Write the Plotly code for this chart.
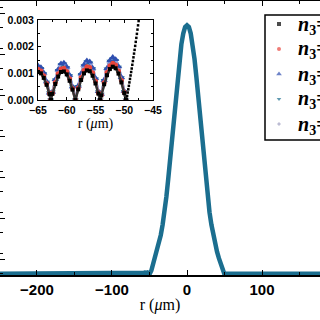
import plotly.graph_objects as go

# ---------------- data ----------------
series_labels = ["1.40", "1.45", "1.50", "1.55", "1.60"]

# inset: side lobes between -65 and -49.7 um
r_inset = [-65, -64.5, -64, -63.5, -63, -62.8, -62.5, -62, -61.5, -61, -60.5, -60,
           -59.5, -59, -58.5, -58, -57.5, -57, -56.5, -56, -55.5, -55, -54.5, -54.2,
           -54, -53.5, -53, -52.5, -52, -51.5, -51, -50.5, -50, -49.7]

s1_inset = [0.00105, 0.00100, 0.00083, 0.00057, 0.00022, 0,
            0.00023, 0.00060, 0.00088, 0.00105, 0.00107, 0.00096, 0.00072, 0.00039, 0,
            0.00040, 0.00075, 0.00100, 0.00111, 0.00108, 0.00091, 0.00062, 0.00024, 0,
            0.00017, 0.00059, 0.00093, 0.00116, 0.00125, 0.00119, 0.00099, 0.00066, 0.00026, 0]
s2_inset = [0.00115, 0.00109, 0.00091, 0.00062, 0.00025, 0,
            0.00026, 0.00066, 0.00098, 0.00116, 0.00119, 0.00107, 0.00080, 0.00043, 0,
            0.00045, 0.00084, 0.00112, 0.00125, 0.00122, 0.00102, 0.00070, 0.00027, 0,
            0.00019, 0.00065, 0.00103, 0.00128, 0.00138, 0.00131, 0.00109, 0.00073, 0.00029, 0]
s3_inset = [0.00128, 0.00122, 0.00102, 0.00069, 0.00027, 0,
            0.00030, 0.00077, 0.00114, 0.00136, 0.00139, 0.00124, 0.00093, 0.00050, 0,
            0.00053, 0.00099, 0.00132, 0.00147, 0.00143, 0.00120, 0.00082, 0.00032, 0,
            0.00022, 0.00075, 0.00119, 0.00148, 0.00160, 0.00152, 0.00126, 0.00085, 0.00033, 0]
s4_inset = [0.00124, 0.00118, 0.00098, 0.00067, 0.00027, 0,
            0.00030, 0.00075, 0.00111, 0.00132, 0.00135, 0.00121, 0.00091, 0.00049, 0,
            0.00051, 0.00096, 0.00128, 0.00143, 0.00139, 0.00117, 0.00079, 0.00031, 0,
            0.00022, 0.00073, 0.00116, 0.00145, 0.00156, 0.00148, 0.00123, 0.00083, 0.00032, 0]
s5_inset = [0.00120, 0.00114, 0.00095, 0.00065, 0.00026, 0,
            0.00028, 0.00072, 0.00106, 0.00126, 0.00129, 0.00116, 0.00087, 0.00046, 0,
            0.00049, 0.00091, 0.00122, 0.00136, 0.00132, 0.00111, 0.00076, 0.00030, 0,
            0.00021, 0.00069, 0.00110, 0.00137, 0.00148, 0.00141, 0.00117, 0.00078, 0.00031, 0]

# rising edge of the central peak (first series), seen in the inset
r_rise = [-49.6, -49.5, -49.4, -49.3, -49.2, -49.1, -49.0, -48.9, -48.8, -48.7, -48.6,
          -48.5, -48.4, -48.3, -48.2, -48.1, -48.0, -47.9, -47.8, -47.7, -47.6, -47.5, -47.4]
s1_rise = [0.00005, 0.00015, 0.00028, 0.0004, 0.00053, 0.00066, 0.00079, 0.00092, 0.00105,
           0.00118, 0.00132, 0.00146, 0.0016, 0.00174, 0.00188, 0.00203, 0.00218, 0.00233,
           0.00248, 0.00264, 0.0028, 0.00296, 0.00312]

# main profile
r_far_left = [-250, -200, -150, -100, -70]
v_far_left = [0, 0, 0, 0, 0]
r_core = [-47.5, -45, -42.5, -40, -37.5, -35, -32.5, -30, -27.5, -25, -22.5, -20, -17.5,
          -15, -12.5, -10, -7.5, -5, -2.5, 0, 2.5, 5, 7.5, 10, 12.5, 15, 17.5, 20, 22.5,
          25, 27.5, 30, 32.5, 35, 37.5, 40, 42.5, 45, 47.5]
v_core = [0.004, 0.012, 0.019, 0.027, 0.035, 0.047, 0.060, 0.075, 0.094, 0.116, 0.140,
          0.164, 0.190, 0.215, 0.240, 0.262, 0.280, 0.293, 0.301, 0.303, 0.301, 0.293,
          0.280, 0.262, 0.240, 0.215, 0.190, 0.164, 0.140, 0.116, 0.094, 0.075, 0.060,
          0.047, 0.035, 0.027, 0.019, 0.012, 0.004]
r_far_right = [49.7, 60, 100, 150, 180]
v_far_right = [0, 0, 0, 0, 0]

x_tick_vals = [-200, -100, 0, 100]
inset_x_ticks = [-65, -60, -55, -50, -45]
inset_y_ticks = [0.000, 0.001, 0.002, 0.003]

# ---------------- styles ----------------
colors = ["#000000", "#e8453c", "#2f4fb0", "#1b6e8f", "#a0a0c0"]
line_colors = ["#333333", "#f08a84", "#8a9ee0", "#5f93b5", "#c4c4da"]
symbols = ["square", "circle", "triangle-up", "triangle-down", "diamond"]
sizes = [4, 5, 6.5, 6, 5]
legend_sizes = [4, 4, 5, 4, 3]
inset_series = [s1_inset, s2_inset, s3_inset, s4_inset, s5_inset]

fig = go.Figure()

# main plot: central profile (teal)
main_x = r_far_left + r_inset + r_core + r_far_right
main_y = v_far_left + s4_inset + v_core + v_far_right
fig.add_trace(go.Scatter(x=main_x, y=main_y, mode="lines",
                         line=dict(color=colors[3], width=4.5),
                         showlegend=False, xaxis="x", yaxis="y"))

# inset traces (black drawn last, on top)
for i in [4, 3, 2, 1, 0]:
    fig.add_trace(go.Scatter(
        x=r_inset, y=inset_series[i], mode="lines+markers",
        line=dict(color=line_colors[i], width=2.5),
        marker=dict(symbol=symbols[i], size=sizes[i], color=colors[i],
                    line=dict(width=0)),
        showlegend=False, xaxis="x2", yaxis="y2"))
fig.add_trace(go.Scatter(x=r_rise, y=s1_rise, mode="markers",
                         marker=dict(symbol="square", size=2.5, color="#000000"),
                         showlegend=False, xaxis="x2", yaxis="y2"))

# ---------- legend (box runs past the right edge, as in the cropped original) ----------
leg_left, leg_top, leg_bottom = 265, 15, 140
leg_rows = [24, 49, 74, 99, 124]
fig.add_trace(go.Scatter(
    x=[279] * 5, y=leg_rows, mode="markers",
    marker=dict(symbol=symbols, size=legend_sizes, color=colors, line=dict(width=0)),
    showlegend=False, xaxis="x3", yaxis="y3", cliponaxis=False, hoverinfo="skip"))

def px_x(p):
    return p / 320

def px_y(p):
    return (275 - p) / 274

shapes = [dict(type="rect", xref="paper", yref="paper",
               x0=px_x(leg_left), x1=px_x(330), y0=px_y(leg_bottom), y1=px_y(leg_top),
               line=dict(color="black", width=1.5), fillcolor="white", layer="below")]
annotations = []
for lab, yy in zip(series_labels, leg_rows):
    annotations.append(dict(
        xref="paper", yref="paper", x=px_x(296), y=px_y(yy + 1), xanchor="left", yanchor="middle",
        text="<b><i>n</i><sub>3</sub>=" + lab + "</b>", showarrow=False,
        font=dict(family="Liberation Serif, Times New Roman", size=20, color="black")))

tickfont_main = dict(family="Liberation Sans, Arial", size=15, color="black", weight=700)
tickfont_inset = dict(family="Liberation Sans, Arial", size=10.5, color="black", weight=700)

fig.update_layout(
    width=320, height=320,
    margin=dict(l=0, r=0, t=1, b=45, autoexpand=False),
    paper_bgcolor="white", plot_bgcolor="rgba(0,0,0,0)",
    showlegend=False,
    shapes=shapes, annotations=annotations,
    xaxis=dict(range=[-249.3, 177.3], tickvals=x_tick_vals,
               ticks="inside", ticklen=5, tickwidth=1, tickcolor="black",
               minor=dict(dtick=50, tick0=0, ticks="inside", ticklen=3, tickcolor="black"),
               showline=True, linewidth=2, linecolor="black", mirror="ticks",
               showgrid=False, zeroline=False, tickfont=tickfont_main,
               title=dict(text="r (<i>μ</i>m)", standoff=2,
                          font=dict(family="Liberation Serif, Times New Roman", size=16, color="black"))),
    yaxis=dict(range=[-0.0015, 0.3327], tick0=0.018, dtick=0.05,
               ticks="inside", ticklen=5, tickcolor="black",
               minor=dict(dtick=0.025, ticks="inside", ticklen=3, tickcolor="black"),
               showline=False, showgrid=False, zeroline=False, showticklabels=False),
    xaxis2=dict(domain=[38 / 320, 153 / 320], anchor="y2", range=[-65, -45],
                tickvals=inset_x_ticks, ticks="inside", ticklen=3, tickcolor="black",
                minor=dict(dtick=2.5, tick0=-65, ticks="inside", ticklen=2, tickcolor="black"),
                showline=True, linewidth=1, linecolor="black", mirror="ticks",
                showgrid=False, zeroline=False, tickfont=tickfont_inset,
                title=dict(text="r (<i>μ</i>m)", standoff=0,
                           font=dict(family="Liberation Serif, Times New Roman", size=14, color="black"))),
    yaxis2=dict(domain=[(275 - 100) / 274, (275 - 20) / 274], anchor="x2",
                range=[0, 0.003], tickvals=inset_y_ticks, tickformat=".3f",
                ticks="inside", ticklen=3, tickcolor="black", ticklabelstandoff=1,
                minor=dict(dtick=0.0005, ticks="inside", ticklen=2, tickcolor="black"),
                showline=True, linewidth=1, linecolor="black", mirror="ticks",
                showgrid=False, zeroline=False, tickfont=tickfont_inset),
    xaxis3=dict(overlaying="x", anchor="y3", range=[0, 320], visible=False, fixedrange=True),
    yaxis3=dict(overlaying="y", anchor="x3", range=[275, 1], visible=False, fixedrange=True),
)

fig.write_html("out.html")
